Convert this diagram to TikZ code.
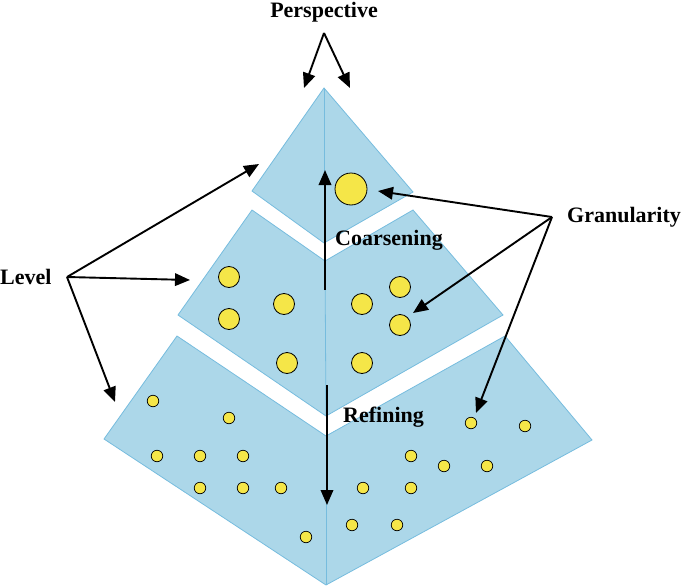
\documentclass[tikz,border=0pt]{standalone}
\usepackage{fontspec}
\setmainfont{Liberation Serif}
\usetikzlibrary{arrows.meta}
\definecolor{fillb}{RGB}{172,215,233}
\definecolor{edgeb}{RGB}{118,188,222}
\definecolor{doty}{RGB}{245,230,72}
\tikzset{
  face/.style={fill=fillb, draw=edgeb, line width=0.8pt, line join=miter},
  bigdot/.style={circle, fill=doty, draw=black, line width=0.8pt, inner sep=0pt, minimum size=32pt},
  middot/.style={circle, fill=doty, draw=black, line width=0.8pt, inner sep=0pt, minimum size=21pt},
  smalldot/.style={circle, fill=doty, draw=black, line width=0.7pt, inner sep=0pt, minimum size=11.5pt},
  lbl/.style={font=\bfseries\fontsize{22}{24}\selectfont, inner sep=0pt},
  arr/.style={line width=1.9pt, -{Triangle[length=15pt,width=12.5pt]}},
}
\begin{document}
\begin{tikzpicture}[x=1pt,y=-1pt]
\useasboundingbox (0,0) rectangle (685,586);
% top piece
\draw[face] (324,88) -- (252,191) -- (324,243) -- (413,192) -- cycle;
% middle piece
\draw[face] (252,210) -- (178,315) -- (326,416) -- (503,315) -- (413,210) -- (325,261) -- cycle;
% bottom piece
\draw[face] (177,336) -- (104,439) -- (326,585) -- (592,440) -- (505,336) -- (326,436) -- cycle;
% central ridge
\draw[edgeb, line width=0.8pt] (324,88) -- (324,243);
\draw[edgeb, line width=0.8pt] (325,261) -- (326,416);
\draw[edgeb, line width=0.8pt] (326,436) -- (326,585);
% dots
\node[bigdot] (d0) at (351,189) {};
\node[middot] (m1) at (229,277) {};
\node[middot] (m2) at (229,319) {};
\node[middot] (m3) at (284,304) {};
\node[middot] (m4) at (287,363) {};
\node[middot] (m5) at (362,304) {};
\node[middot] (m6) at (362,363) {};
\node[middot] (m7) at (400,287) {};
\node[middot] (m8) at (400,325) {};
\foreach \x/\y [count=\i] in {153/401,229/418,157/456,200/456,243/456,200/488,243/488,281/488,306/537,352/525,397/525,363/488,411/488,411/456,444/466,487/466,471/423,525/426}
  \node[smalldot] (s\i) at (\x,\y) {};
% labels
\node[lbl] (persp) at (324,12) {Perspective};
\node[lbl, anchor=west] (coars) at (335,240) {Coarsening};
\node[lbl, anchor=west] (refin) at (343,417) {Refining};
\node[lbl, anchor=west] (level) at (0,277) {Level};
\node[lbl, anchor=west] (gran) at (567,217) {Granularity};
% arrow vertices and targets
\coordinate (pv) at (324,33);
\coordinate (pl) at (304,88);
\coordinate (pr) at (350,88);
\coordinate (lv) at (67,277);
\coordinate (l1) at (259,164);
\coordinate (l2) at (190,280);
\coordinate (l3) at (115,402);
\coordinate (gv) at (552,217);
\coordinate (g1) at (378,191);
\coordinate (g2) at (413,313);
\coordinate (g3) at (476,413);
\coordinate (cs) at (325,290);
\coordinate (ce) at (325,170);
\coordinate (rs) at (327,385);
\coordinate (re) at (327,505);
% arrows
\draw[arr] (pv) -- (pl);
\draw[arr] (pv) -- (pr);
\draw[arr] (lv) -- (l1);
\draw[arr] (lv) -- (l2);
\draw[arr] (lv) -- (l3);
\draw[arr] (gv) -- (g1);
\draw[arr] (gv) -- (g2);
\draw[arr] (gv) -- (g3);
\draw[arr] (cs) -- (ce);
\draw[arr] (rs) -- (re);
\end{tikzpicture}
\end{document}
